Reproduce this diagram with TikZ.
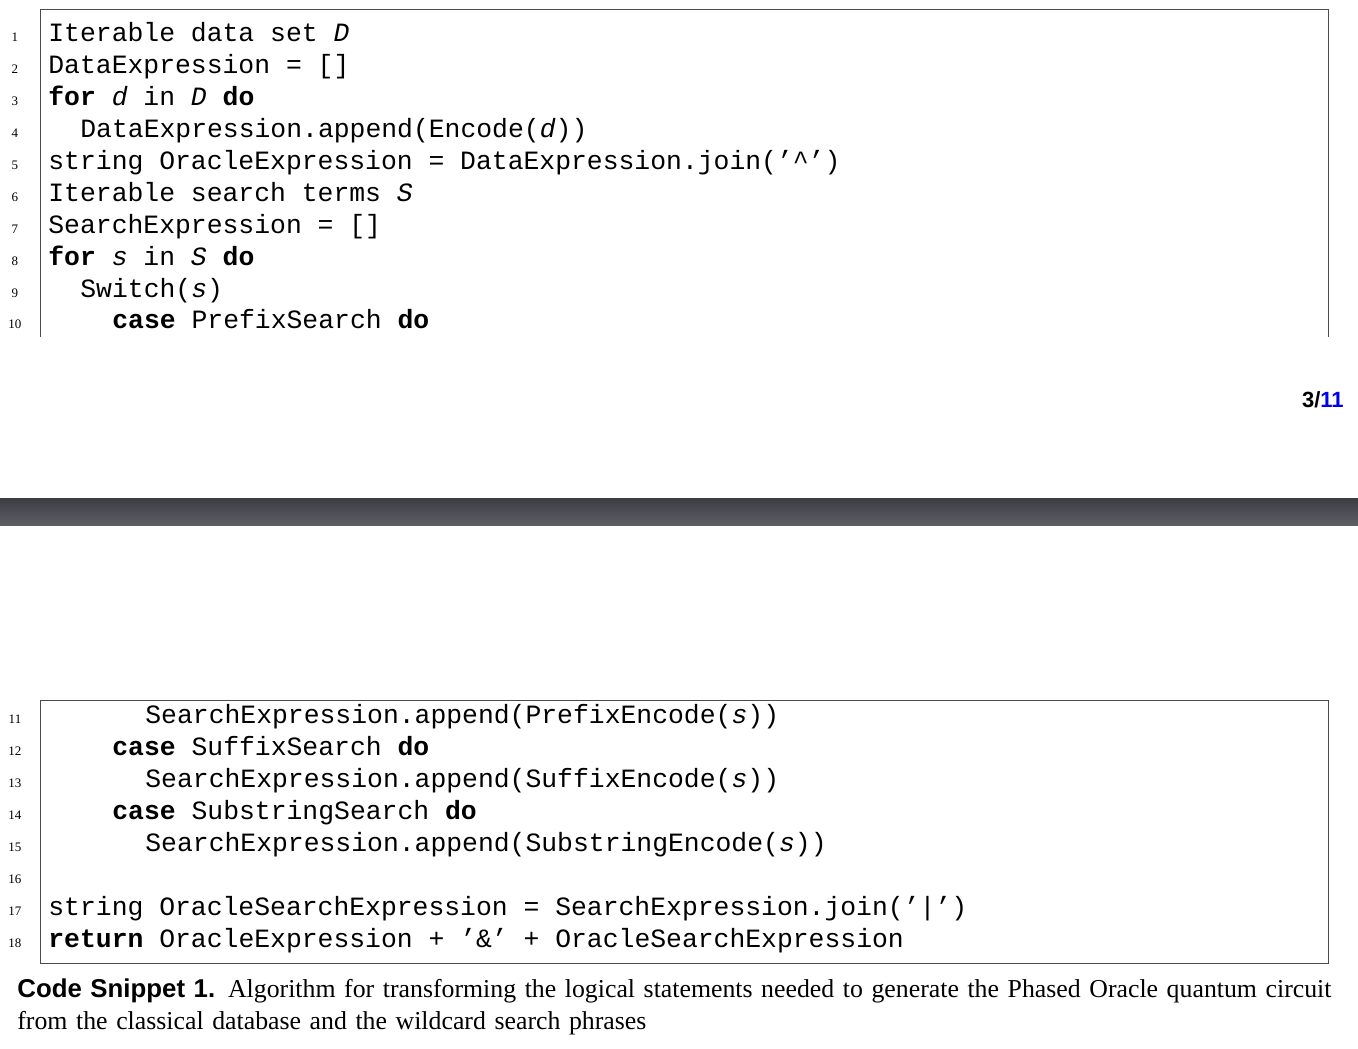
\documentclass[tikz,border=0pt]{standalone}
\usepackage{fontspec}
\setmainfont{Liberation Serif}
\setsansfont{Liberation Sans}
\setmonofont{Liberation Mono}
\definecolor{bandtop}{HTML}{3A3D42}
\definecolor{bandbot}{HTML}{5C5F64}
\definecolor{pagelink}{HTML}{0000EE}
\newcommand{\kw}[1]{\textbf{#1}}
\newcommand{\vr}[1]{\textit{#1}}
\begin{document}
\begin{tikzpicture}[x=0.5pt,y=-0.5pt]
  \tikzset{codeline/.style={anchor=mid west, inner sep=0pt, font=\ttfamily\fontsize{13.2}{15}\selectfont},
           lineno/.style={anchor=mid, inner sep=0pt, font=\rmfamily\fontsize{6.5}{7}\selectfont},
           frame/.style={line width=0.5pt, black!70}}
  \useasboundingbox (0,0) rectangle (1358,1048);

  % page top
  \draw[frame] (40,337) -- (40,10) -- (1328,10) -- (1328,337);
  \foreach \n/\y in {1/37,2/69,3/101,4/133,5/165,6/197,7/229,8/261,9/293,10/324}
    \node[lineno] (num\n) at (15,\y) {\n};
  \node[codeline] (l1) at (48,37) {Iterable data set \vr{D}};
  \node[codeline] (l2) at (48,69) {DataExpression = []};
  \node[codeline] (l3) at (48,101) {\kw{for} \vr{d} in \vr{D} \kw{do}};
  \node[codeline] (l4) at (80,133) {DataExpression.append(Encode(\vr{d}))};
  \node[codeline] (l5) at (48,165) {string OracleExpression = DataExpression.join(’\textasciicircum’)};
  \node[codeline] (l6) at (48,197) {Iterable search terms \vr{S}};
  \node[codeline] (l7) at (48,229) {SearchExpression = []};
  \node[codeline] (l8) at (48,261) {\kw{for} \vr{s} in \vr{S} \kw{do}};
  \node[codeline] (l9) at (80,293) {Switch(\vr{s})};
  \node[codeline] (l10) at (112,324) {\kw{case} PrefixSearch \kw{do}};

  \node[anchor=east, inner sep=0pt, font=\sffamily\bfseries\fontsize{11}{13}\selectfont] (page) at (1344,400) {3/\textcolor{pagelink}{11}};

  % page break
  \shade[top color=bandtop, bottom color=bandbot] (0,498) rectangle (1358,525);

  % page bottom
  \draw[frame] (40,963) -- (40,700) -- (1328,700) -- (1328,963) -- cycle;
  \foreach \n/\y in {11/719,12/751,13/783,14/815,15/847,16/879,17/911,18/943}
    \node[lineno] (num\n) at (15,\y) {\n};
  \node[codeline] (l11) at (145,719) {SearchExpression.append(PrefixEncode(\vr{s}))};
  \node[codeline] (l12) at (112,751) {\kw{case} SuffixSearch \kw{do}};
  \node[codeline] (l13) at (145,783) {SearchExpression.append(SuffixEncode(\vr{s}))};
  \node[codeline] (l14) at (112,815) {\kw{case} SubstringSearch \kw{do}};
  \node[codeline] (l15) at (145,847) {SearchExpression.append(SubstringEncode(\vr{s}))};
  \node[codeline] (l17) at (48,911) {string OracleSearchExpression = SearchExpression.join(’|’)};
  \node[codeline] (l18) at (48,943) {\kw{return} OracleExpression + ’\&’ + OracleSearchExpression};

  % caption
  \node[anchor=north west, inner sep=0pt, text width=666pt, align=left,
        font=\rmfamily\fontsize{12.9}{16}\selectfont] (caption) at (17,978)
    {\hyphenpenalty=10000 {\sffamily\bfseries Code Snippet 1.} Algorithm for transforming the logical statements needed to generate the Phased Oracle quantum circuit from the classical database and the wildcard search phrases};
\end{tikzpicture}
\end{document}
